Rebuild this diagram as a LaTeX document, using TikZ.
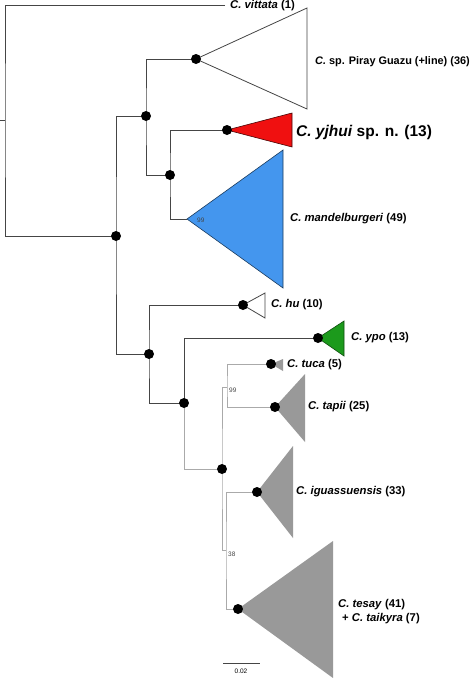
\documentclass[tikz,border=0pt]{standalone}
\usepackage{fontspec}
\setmainfont{Liberation Sans}
\usetikzlibrary{backgrounds}
\definecolor{dk}{HTML}{454545}
\definecolor{lg}{HTML}{AAAAAA}
\definecolor{tgray}{HTML}{999999}
\definecolor{tred}{HTML}{F01010}
\definecolor{tblue}{HTML}{4496EE}
\definecolor{tgreen}{HTML}{1C9A1C}
\begin{document}
\begin{tikzpicture}[x=1pt,y=-1pt,
  br/.style={draw=dk, line width=0.9pt},
  gbr/.style={draw=lg, line width=0.9pt},
  dot/.style={circle, fill=black, inner sep=0pt, minimum size=10pt},
  tipnode/.style={inner sep=0pt, minimum size=0pt},
  lab/.style={anchor=west, inner sep=0pt, font=\fontsize{11.3}{14}\selectfont\bfseries},
  biglab/.style={anchor=west, inner sep=0pt, font=\fontsize{15.5}{18}\selectfont\bfseries},
  bsval/.style={anchor=west, inner sep=0pt, font=\fontsize{6.5}{7}\selectfont, text=dk},
  wtri/.style={draw=dk, line width=0.8pt, fill=white},
  gtri/.style={fill=tgray},
]
\useasboundingbox (0,0) rectangle (474,678);

% internal nodes and tips
\node[dot] (N1) at (116,236) {};
\node[dot] (N2) at (146,116) {};
\node[dot] (Npg) at (196,59) {};
\node[dot] (N3) at (170,175) {};
\node[dot] (Nyj) at (227,130) {};
\node[tipnode] (Nmd) at (187,219) {};
\node[dot] (N4) at (149,354) {};
\node[dot] (Nhu) at (243,305) {};
\node[dot] (N5) at (184,403) {};
\node[dot] (Nypo) at (318,338) {};
\node[dot] (N6) at (222,469) {};
\node[tipnode] (N99) at (227,387) {};
\node[dot] (Ntuca) at (271,364) {};
\node[dot] (Ntapii) at (275,407) {};
\node[tipnode] (N38) at (226,550) {};
\node[dot] (Nig) at (257,492) {};
\node[dot] (Nts) at (238,609) {};
\coordinate (vit) at (225,5);
\coordinate (root) at (5,120);
\coordinate (stub) at (0,120);

\begin{pgfonlayer}{background}
% branches
\draw[br] (stub) -- (root);
\draw[br] (vit) -| (root) |- (N1.center);
\draw[br] (N2.center) -| (N1.center) |- (N4.center);
\draw[br] (Npg.center) -| (N2.center) |- (N3.center);
\draw[br] (Nyj.center) -| (N3.center) |- (Nmd.center);
\draw[br] (Nhu.center) -| (N4.center) |- (N5.center);
\draw[br] (Nypo.center) -| (N5.center);
\draw[gbr] (N5.center) |- (N6.center);
\draw[gbr] (N99.center) -| (N6.center) |- (N38.center);
\draw[gbr] (Ntuca.center) -| (N99.center) |- (Ntapii.center);
\draw[gbr] (Nig.center) -| (N38.center) |- (Nts.center);
% collapsed clades
\draw[wtri] (Npg.center) -- (307,8) -- (307,109) -- cycle;
\draw[draw=black!70!tred, line width=0.6pt, fill=tred] (Nyj.center) -- (292,113) -- (292,147) -- cycle;
\draw[draw=black!60!tblue, line width=0.6pt, fill=tblue] (Nmd.center) -- (283,150) -- (283,288) -- cycle;
\draw[wtri] (Nhu.center) -- (265,293) -- (265,318) -- cycle;
\draw[draw=black!50!tgreen, line width=0.6pt, fill=tgreen] (Nypo.center) -- (344,321) -- (344,356) -- cycle;
\fill[gtri] (Ntuca.center) -- (283,359) -- (283,371) -- cycle;
\fill[gtri] (Ntapii.center) -- (305,374) -- (305,442) -- cycle;
\fill[gtri] (Nig.center) -- (293,446) -- (293,538) -- cycle;
\fill[gtri] (Nts.center) -- (333,541) -- (333,678) -- cycle;
\end{pgfonlayer}

% labels
\node[lab] (Lvit) at (230,6) {\textit{C. vittata} (1)};
\node[lab, font=\fontsize{10.9}{14}\selectfont\bfseries] (Lpg) at (315,62) {\textit{C.} sp. Piray Guazu (+line) (36)};
\node[biglab] (Lyj) at (296,132) {\textit{C. yjhui} sp. n. (13)};
\node[lab] (Lmd) at (290,219) {\textit{C. mandelburgeri} (49)};
\node[lab] (Lhu) at (271,305) {\textit{C. hu} (10)};
\node[lab] (Lypo) at (351,338) {\textit{C. ypo} (13)};
\node[lab] (Ltuca) at (287,365) {\textit{C. tuca} (5)};
\node[lab] (Ltapii) at (308,407) {\textit{C. tapii} (25)};
\node[lab] (Lig) at (296,492) {\textit{C. iguassuensis} (33)};
\node[lab, align=left] (Lts) at (338,612) {\textit{C. tesay} (41)\\\hspace*{4pt}+ \textit{C. taikyra} (7)};
% support values
\node[bsval] (B99a) at (197,220) {99};
\node[bsval] (B99b) at (229,390) {99};
\node[bsval] (B38) at (228,554) {38};
% scale bar
\coordinate (sb1) at (223,663);
\coordinate (sb2) at (260,663);
\draw[br] (sb1) -- (sb2);
\node[bsval, anchor=center, text=black] (Lsb) at (241,671) {0.02};
\end{tikzpicture}
\end{document}
